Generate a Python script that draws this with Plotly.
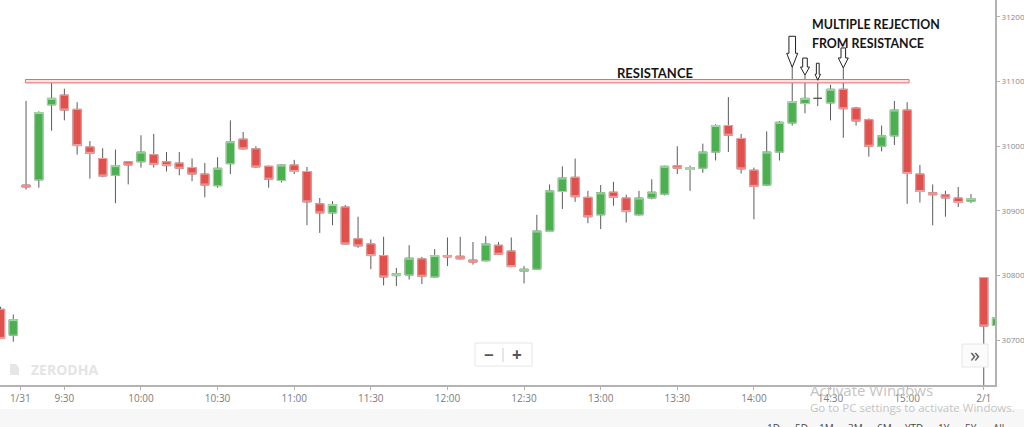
import plotly.graph_objects as go

# ---------------- data ----------------
# candle index: -2,-1 = 1/30 15:20,15:25 ; 0..74 = 1/31 09:15..15:25 ; 75,76 = 2/1 09:15, 09:20
candle_idx = list(range(-2, 77))

opens = [30748, 30708,
         30940, 30948, 31064, 31079, 31057, 30999, 30981, 30955, 30976, 30976,
         30987, 30976, 30974, 30967, 30957, 30939, 30973, 31011, 30996, 30969,
         30947, 30971, 30961, 30911, 30897, 30906, 30857, 30849, 30831, 30800,
         30801, 30826, 30798, 30831, 30830, 30824, 30823, 30847, 30838, 30807,
         30810, 30869, 30930, 30952, 30921, 30894, 30929, 30920, 30894, 30920,
         30926, 30970, 30964, 30966, 30991, 31032, 31012, 30963, 30940, 30991,
         31036, 31066, 31074, 31067, 31088, 31059, 31041, 31000, 31016, 31056,
         30957, 30928, 30925, 30920, 30915,
         30797, 30723]

highs = [30752, 30740,
         31070, 31054, 31103, 31089, 31068, 31008, 30997, 30995, 30977, 31017,
         31019, 30991, 30991, 30981, 30974, 30983, 31040, 31022, 31000, 30970,
         30972, 30979, 30968, 30920, 30915, 30909, 30891, 30856, 30860, 30812,
         30847, 30829, 30841, 30859, 30860, 30852, 30861, 30852, 30859, 30815,
         30894, 30941, 30969, 30981, 30931, 30940, 30945, 30925, 30931, 30949,
         30970, 31000, 30970, 31004, 31034, 31076, 31019, 30967, 31023, 31039,
         31122, 31110, 31102, 31095, 31121, 31061, 31043, 31032, 31070, 31068,
         30971, 30941, 30931, 30937, 30926,
         30798, 30737]

lows = [30702, 30698,
        30933, 30936, 31024, 31040, 30987, 30950, 30952, 30912, 30941, 30967,
        30967, 30961, 30955, 30946, 30921, 30936, 30957, 30995, 30967, 30936,
        30944, 30957, 30878, 30866, 30878, 30848, 30843, 30810, 30785, 30784,
        30794, 30787, 30797, 30815, 30825, 30817, 30822, 30832, 30813, 30788,
        30810, 30869, 30903, 30914, 30881, 30872, 30908, 30882, 30893, 30918,
        30924, 30957, 30931, 30959, 30978, 30991, 30958, 30887, 30939, 30978,
        31032, 31051, 31062, 31040, 31013, 31032, 30984, 30992, 31002, 30911,
        30913, 30878, 30891, 30906, 30912,
        30600, 30719]

closes = [30703, 30732,
          30937, 31052, 31074, 31056, 31001, 30989, 30954, 30970, 30971, 30991,
          30972, 30970, 30966, 30957, 30940, 30966, 31007, 30996, 30968, 30949,
          30971, 30961, 30914, 30897, 30910, 30849, 30846, 30831, 30798, 30803,
          30827, 30799, 30831, 30829, 30826, 30821, 30849, 30833, 30814, 30810,
          30869, 30931, 30951, 30922, 30891, 30928, 30921, 30899, 30920, 30929,
          30969, 30966, 30967, 30991, 31032, 31017, 30965, 30938, 30991, 31037,
          31069, 31074, 31074, 31088, 31058, 31039, 31000, 31016, 31056, 30958,
          30930, 30925, 30920, 30913, 30919,
          30722, 30735]

tick_pos = [-0.45, 3, 9, 15, 21, 27, 33, 39, 45, 51, 57, 63, 69, 75]
tick_labels = ["1/31", "9:30", "10:00", "10:30", "11:00", "11:30", "12:00",
               "12:30", "13:00", "13:30", "14:00", "14:30", "15:00", "2/1"]

price_ticks = [30700, 30800, 30900, 31000, 31100, 31200]
price_labels = ["30700.00", "30800.00", "30900.00", "31000.00", "31100.00", "31200.00"]

resistance_level = 31100.5
resistance_from = -0.05
resistance_to = 69.15

rejection_idx = [60, 61, 62, 64]   # candles rejected at resistance

range_buttons = ["1D", "5D", "1M", "3M", "6M", "YTD", "1Y", "5Y", "All"]

# ---------------- styling ----------------
W, H = 1024, 427
ML, MR, MT, MB = 0, 29, 0, 42
PW, PH = W - ML - MR, H - MT - MB

GREEN, GREEN_EDGE = "#4caf50", "#a6d8a8"
RED, RED_EDGE = "#e0504d", "#f4a3a1"
WICK = "#5b5b5b"
AXIS = "#b3b3b3"
FONT = "Open Sans"


def pxx(x):
    return (x - ML) / PW


def pxy(y):
    return (PH + MT - y) / PH


# body-only series (no wicks), doji bodies left to the wick trace
b_open, b_close, b_high, b_low = [], [], [], []
for o, c in zip(opens, closes):
    if o == c:
        b_open.append(None); b_close.append(None); b_high.append(None); b_low.append(None)
    else:
        b_open.append(o); b_close.append(c); b_high.append(max(o, c)); b_low.append(min(o, c))

fig = go.Figure()
fig.add_trace(go.Candlestick(
    x=candle_idx, open=opens, high=highs, low=lows, close=closes,
    increasing=dict(line=dict(color=WICK, width=1), fillcolor=WICK),
    decreasing=dict(line=dict(color=WICK, width=1), fillcolor=WICK),
    whiskerwidth=0, hoverinfo="skip", showlegend=False))
fig.add_trace(go.Candlestick(
    x=candle_idx, open=b_open, high=b_high, low=b_low, close=b_close,
    increasing=dict(line=dict(color=GREEN_EDGE, width=1), fillcolor=GREEN),
    decreasing=dict(line=dict(color=RED_EDGE, width=1), fillcolor=RED),
    whiskerwidth=0, hoverinfo="skip", showlegend=False))

shapes = []
# resistance band
shapes.append(dict(type="rect", xref="x", yref="y",
                   x0=resistance_from, x1=resistance_to,
                   y0=resistance_level - 2.6, y1=resistance_level + 2.6,
                   line=dict(color="#e86a6a", width=1), fillcolor="#fde3e3", layer="above"))

# hollow down arrows pointing at rejected highs
arrow_len = [31, 17, 17, 20]
arrow_head = [14, 8, 6, 10]
arrow_hw = [5.5, 4.5, 2.7, 5.0]
arrow_sw = [3.3, 2.3, 1.4, 2.3]
for i, idx in enumerate(rejection_idx):
    L, Hh, hw, sw = arrow_len[i], arrow_head[i], arrow_hw[i], arrow_sw[i]
    path = (f"M 0,0 L {-hw},{Hh} L {-sw},{Hh} L {-sw},{L} L {sw},{L} "
            f"L {sw},{Hh} L {hw},{Hh} Z")
    j = candle_idx.index(idx)
    shapes.append(dict(type="path", xref="x", yref="y",
                       xsizemode="pixel", ysizemode="pixel",
                       xanchor=candle_idx[j], yanchor=highs[j],
                       path=path, line=dict(color="#222222", width=1),
                       fillcolor="white", layer="above"))

# bottom range-selector band
shapes.append(dict(type="rect", xref="paper", yref="paper",
                   x0=0, x1=W / PW, y0=pxy(409), y1=pxy(H + 2),
                   line=dict(width=0), fillcolor="#f7f7f7", layer="above"))
# zoom (- | +) box
shapes.append(dict(type="rect", xref="paper", yref="paper",
                   x0=pxx(475), x1=pxx(532), y0=pxy(366), y1=pxy(343),
                   line=dict(color="#e6e6e6", width=1), fillcolor="white", layer="above"))
shapes.append(dict(type="line", xref="paper", yref="paper",
                   x0=pxx(503), x1=pxx(503), y0=pxy(362), y1=pxy(348),
                   line=dict(color="#cfcfcf", width=1), layer="above"))
# >> box
shapes.append(dict(type="rect", xref="paper", yref="paper",
                   x0=pxx(962), x1=pxx(988), y0=pxy(367), y1=pxy(344),
                   line=dict(color="#e6e6e6", width=1), fillcolor="#fbfbfb", layer="above"))
# zerodha logo mark
shapes.append(dict(type="path", xref="paper", yref="paper",
                   path=f"M {pxx(10)},{pxy(364)} L {pxx(16)},{pxy(364)} L {pxx(19)},{pxy(368)} "
                        f"L {pxx(19)},{pxy(375)} L {pxx(10)},{pxy(375)} Z",
                   line=dict(width=0), fillcolor="#e6e6e6", layer="below"))

ann = []


def text(x, y, s, size, color, bold=False, xanchor="center", family=None):
    ann.append(dict(xref="paper", yref="paper", x=pxx(x), y=pxy(y), text=s,
                    showarrow=False, xanchor=xanchor, yanchor="middle",
                    font=dict(family=family or FONT, size=size, color=color,
                              weight=700 if bold else 400)))


text(655, 73, "RESISTANCE", 13, "#151515", True, family="Lato")
text(810, 24, "MULTIPLE REJECTION", 12.4, "#151515", True, "left", family="Lato")
text(810, 43, "FROM RESISTANCE", 12.4, "#151515", True, "left", family="Lato")
text(489, 354, "−", 17, "#555555", True)
text(517, 354, "+", 17, "#555555", True)
text(975, 354, "»", 20, "#555555", False)
text(64, 369, "ZERODHA", 14, "#e4e4e4", True)
text(808, 390, "Activate Windows", 15, "#c4c4c4", False, "left")
text(808, 407, "Go to PC settings to activate Windows.", 11.5, "#c4c4c4", False, "left")
btn_x = [773, 801, 826, 855, 884, 914, 944, 971, 998]
for bx, lab in zip(btn_x, range_buttons):
    text(bx, 428, lab, 10, "#4a4a4a", False)

fig.update_layout(
    width=W, height=H,
    margin=dict(l=ML, r=MR, t=MT, b=MB, autoexpand=False),
    paper_bgcolor="white", plot_bgcolor="white",
    font=dict(family=FONT),
    showlegend=False,
    boxgap=0.35, boxgroupgap=0,
    shapes=shapes, annotations=ann,
    xaxis=dict(range=[-2.04, 75.88], rangeslider=dict(visible=False),
               tickmode="array", tickvals=tick_pos, ticktext=tick_labels,
               showline=True, linecolor=AXIS, linewidth=1.5,
               ticks="outside", ticklen=3, tickcolor=AXIS,
               tickfont=dict(size=10, color="#7c7c7c"),
               showgrid=False, zeroline=False),
    yaxis=dict(range=[30631, 31226], side="right",
               tickmode="array", tickvals=price_ticks, ticktext=price_labels,
               showline=True, linecolor=AXIS, linewidth=2,
               ticks="outside", ticklen=3, tickcolor=AXIS,
               tickfont=dict(size=8, color="#888888"),
               showgrid=False, zeroline=False),
)

fig.write_html("out.html")
